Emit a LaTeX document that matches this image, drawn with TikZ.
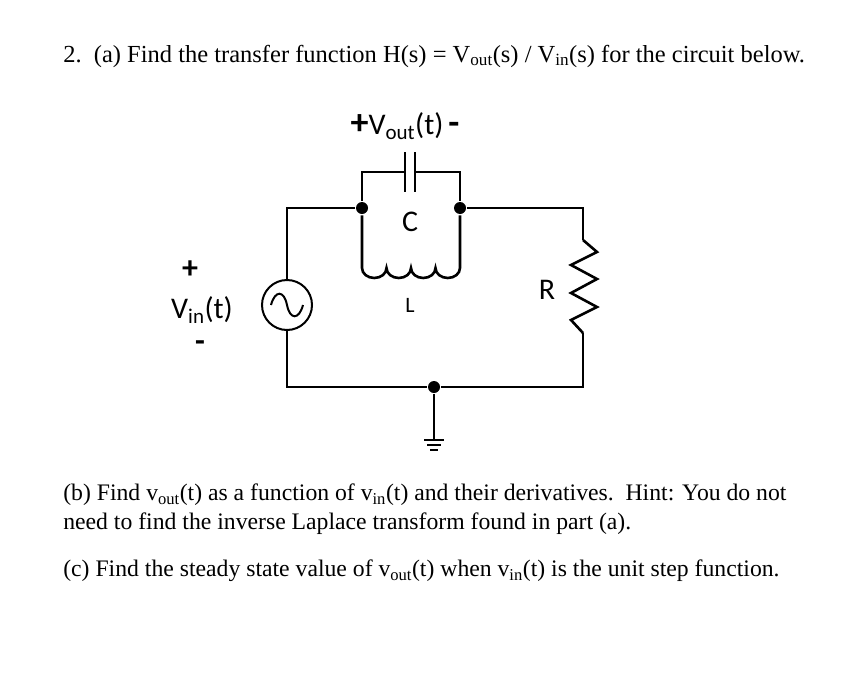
\documentclass[tikz,border=0pt]{standalone}
\usepackage{fontspec}
\setmainfont{Liberation Serif}
\newfontfamily\carl{Carlito}
\begin{document}
\begin{tikzpicture}[x=1pt,y=-1pt,line width=2.6pt,
  txt/.style={anchor=west,inner sep=0pt,font=\fontsize{24.5}{28}\selectfont},
  btxt/.style={txt,font=\fontsize{23.7}{28}\selectfont},
  lab/.style={inner sep=0pt,font=\carl\fontsize{30}{32}\selectfont},
  dot/.style={circle,fill=black,inner sep=0pt,minimum size=12pt}]
\useasboundingbox[fill=white] (0,0) rectangle (861,688);
\node[txt] (t1) at (62,56) {2.\ \ (a) Find the transfer function H(s) = V\textsubscript{out}(s) / V\textsubscript{in}(s) for the circuit below.};
\node[btxt] (t2) at (62,495) {(b) Find v\textsubscript{out}(t) as a function of v\textsubscript{in}(t) and their derivatives.\ \ Hint: You do not};
\node[btxt] (t3) at (62,524) {need to find the inverse Laplace transform found in part (a).};
\node[btxt] (t4) at (62,571) {(c) Find the steady state value of v\textsubscript{out}(t) when v\textsubscript{in}(t) is the unit step function.};
% nodes
\node[dot] (n1) at (362,208) {};
\node[dot] (n2) at (460,208) {};
\node[dot] (g) at (434,387) {};
\node[circle,draw,minimum size=50pt,inner sep=0pt,line width=2pt] (src) at (287,305) {};
\draw[line width=2pt] (271,305) .. controls (275,290) and (284,290) .. (287,305) .. controls (290,320) and (299,320) .. (303,305);
\coordinate (tl) at (287,208);
\coordinate (bl) at (287,387);
\coordinate (tr) at (583,208);
\coordinate (br) at (583,387);
\coordinate (r1) at (583,240);
\coordinate (r2) at (583,333);
\draw (src.north) -- (tl) -- (n1);
\draw (src.south) -- (bl) -- (g) -- (br) -- (r2);
\draw (n2) -- (tr) -- (r1);
\draw (r1) -- (597,252) -- (571,265) -- (597,279) -- (571,293) -- (597,307) -- (571,320) -- (r2);
% capacitor
\coordinate (c1) at (405,172);
\coordinate (c2) at (415,172);
\draw (n1) -- (362,172) -- (c1);
\draw (n2) -- (460,172) -- (c2);
\draw (405,152) -- (405,192);
\draw (415,152) -- (415,192);
% inductor
\draw (n1) -- (362,268) arc (180:0:12.25 and 10) arc (180:0:12.25 and 10) arc (180:0:12.25 and 10) arc (180:0:12.25 and 10) -- (n2);
% ground
\draw (g) -- (434,440);
\draw (424,440) -- (444,440);
\draw[line width=2pt] (427,445) -- (441,445);
\draw[line width=1.6pt] (430,450) -- (438,450);
% labels
\node[lab] (lc) at (410,222) {C};
\node[lab,font=\carl\fontsize{22}{24}\selectfont] (ll) at (410,305) {L};
\node[lab] (lr) at (547,290) {R};
\node[lab,font=\carl\bfseries\fontsize{32}{34}\selectfont] (lp) at (190,270) {+};
\node[lab] (lv) at (202,310) {V\textsubscript{in}(t)};
\node[lab,font=\carl\bfseries\fontsize{32}{34}\selectfont] (lm) at (200,346) {-};
\node[lab] (lo) at (405,126) {{\bfseries\fontsize{36}{38}\selectfont+}V\textsubscript{out}(t)\,{\bfseries\fontsize{36}{38}\selectfont-}};
\end{tikzpicture}
\end{document}
